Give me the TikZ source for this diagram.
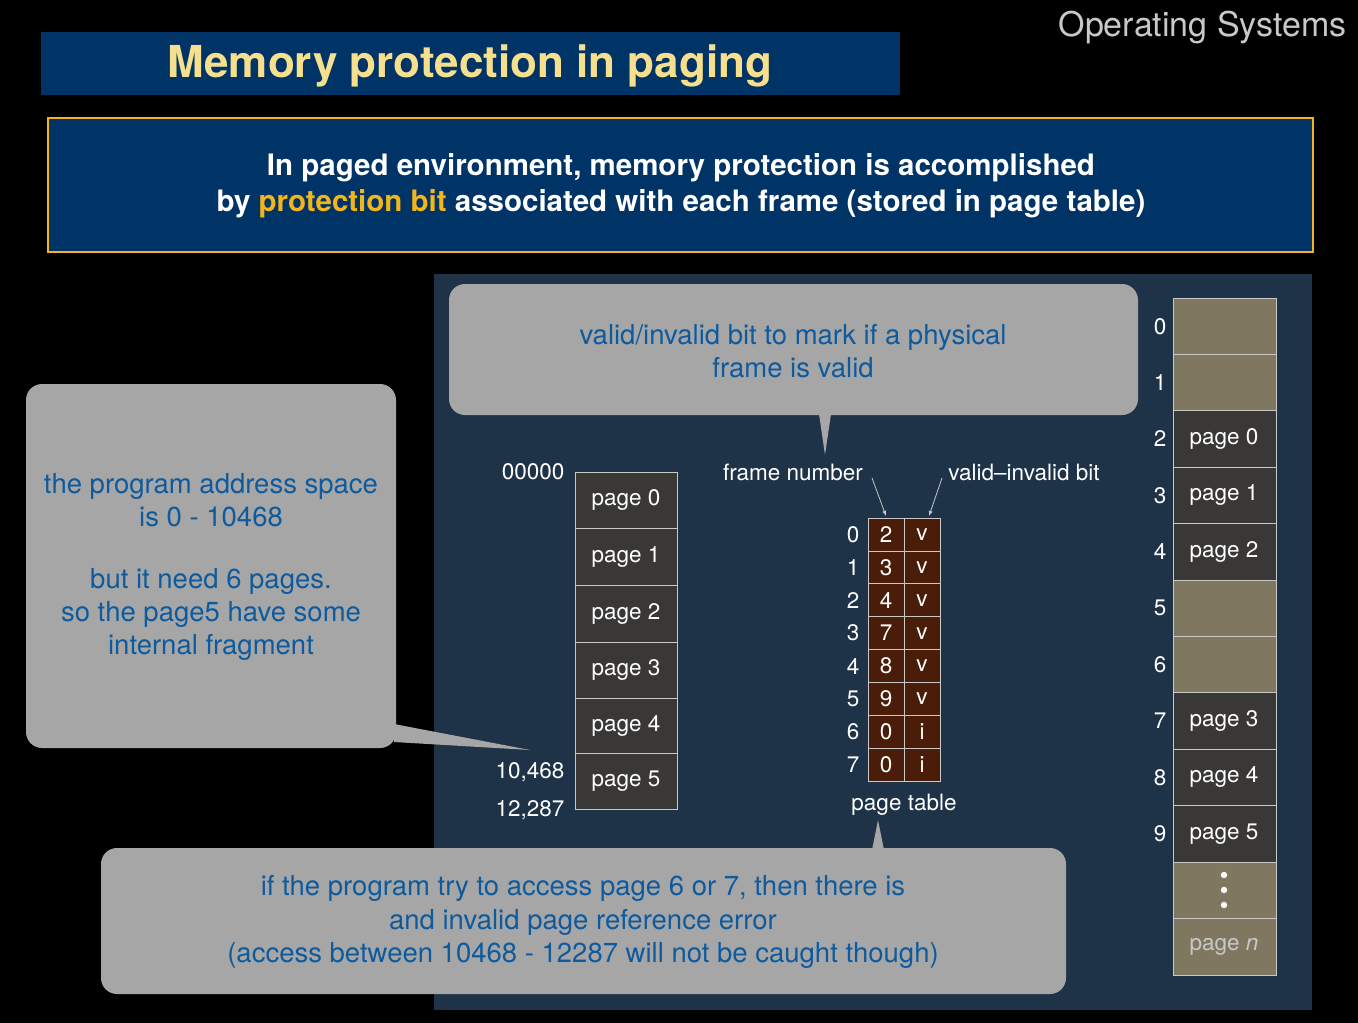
\documentclass[tikz,border=0pt]{standalone}
\usepackage{fontspec}
\setmainfont{TeX Gyre Heros}
\begin{document}
\begin{tikzpicture}[x=1pt,y=-1pt,
  callout/.style={fill=calgray,draw=none},
  ctext/.style={text=ctblue,font=\fontsize{27.5}{33.5}\selectfont,align=center},
  small/.style={text=white,font=\fontsize{22.5}{26}\selectfont},
  lpage/.style={draw=lgray,fill=pagegray,line width=0.8pt},
  ptcell/.style={draw=lgray,fill=ptbrown,line width=0.8pt},
  empty/.style={draw=lgray,fill=olive,line width=0.8pt}]
\definecolor{navy}{HTML}{003366}
\definecolor{panel}{HTML}{1E3248}
\definecolor{calgray}{HTML}{A6A6A6}
\definecolor{ctblue}{HTML}{0D5A9E}
\definecolor{titley}{HTML}{F6E08E}
\definecolor{gold}{HTML}{F2B51C}
\definecolor{lgray}{HTML}{C8C8C8}
\definecolor{pagegray}{HTML}{3A3836}
\definecolor{ptbrown}{HTML}{4A1D08}
\definecolor{olive}{HTML}{7F7760}
\fill[black] (0,0) rectangle (1358,1023);
\useasboundingbox (0,0) rectangle (1358,1023);
% title
\fill[navy] (41,32) rectangle (900,95);
\node (title) at (470,66) {\fontsize{44}{50}\selectfont\bfseries\color{titley}Memory protection in paging};
\node[anchor=east] (os) at (1350,28) {\fontsize{34}{38}\selectfont\color{lgray}Operating Systems};
% intro box
\draw[fill=navy,draw=gold,line width=2pt] (48,118) rectangle (1313,252);
\node[align=center,text=white,font=\fontsize{29.5}{36}\selectfont\bfseries] (intro) at (681,186)
 {In paged environment, memory protection is accomplished\\ by {\color{gold}protection bit} associated with each frame (stored in page table)};
% panel
\fill[panel] (434,274) rectangle (1312,1010);
% top callout
\fill[callout,rounded corners=16pt] (449,284) rectangle (1138,415);
\fill[callout] (819,414) -- (831,414) -- (825,455) -- cycle;
\node[ctext] (c1) at (793,351) {valid/invalid bit to mark if a physical\\frame is valid};
% left callout
\fill[callout,rounded corners=16pt] (26,384) rectangle (396,748);
\fill[callout] (394,724) -- (394,742) -- (530,750) -- cycle;
\node[ctext,font=\fontsize{27.5}{33}\selectfont] (c2) at (211,567) {the program address space\\is 0 - 10468\\[1.05em]but it need 6 pages.\\so the page5 have some\\internal fragment};
% logical memory
\foreach \i/\ya/\yb in {0/472/528,1/528/585,2/585/642,3/642/698,4/698/753,5/753/809}{
  \draw[lpage] (575,\ya) rectangle (677,\yb);
  \node[small] (lp\i) at (626,{(\ya+\yb)/2}) {page \i};
}
\node[small,anchor=east] (a0) at (568,472) {00000};
\node[small,anchor=east] (a1) at (568,772) {10,468};
\node[small,anchor=east] (a2) at (568,810) {12,287};
% page table
\foreach \i/\f/\v in {0/2/v,1/3/v,2/4/v,3/7/v,4/8/v,5/9/v,6/0/i,7/0/i}{
  \pgfmathsetmacro{\ya}{518+\i*32.9}
  \pgfmathsetmacro{\yb}{518+(\i+1)*32.9}
  \draw[ptcell] (868,\ya) rectangle (904,\yb);
  \draw[ptcell] (904,\ya) rectangle (940,\yb);
  \node[small] (f\i) at (886,{(\ya+\yb)/2}) {\f};
  \node[small] (v\i) at (922,{(\ya+\yb)/2}) {\v};
  \node[small] (pi\i) at (853,{(\ya+\yb)/2}) {\i};
}
\coordinate (ftop) at (886,516);
\coordinate (vtop) at (929,516);
\node[small] (fn) at (793,472) {frame number};
\node[small] (vib) at (1024,472) {valid–invalid bit};
\draw[lgray,line width=0.8pt,-latex] (872,478) -- (ftop);
\draw[lgray,line width=0.8pt,-latex] (942,478) -- (vtop);
\node[small] (pt) at (904,805) {page table};
% bottom callout
\fill[callout,rounded corners=16pt] (101,848) rectangle (1066,994);
\fill[callout] (872,850) -- (884,850) -- (878,820) -- cycle;
\node[ctext,font=\fontsize{27.5}{33.5}\selectfont] (c3) at (583,922) {if the program try to access page 6 or 7, then there is\\and invalid page reference error\\(access between 10468 - 12287 will not be caught though)};
% physical memory
\foreach \r/\s/\t in {0/empty/,1/empty/,2/lpage/page 0,3/lpage/page 1,4/lpage/page 2,5/empty/,6/empty/,7/lpage/page 3,8/lpage/page 4,9/lpage/page 5}{
  \pgfmathsetmacro{\ya}{298+\r*56.4}
  \pgfmathsetmacro{\yb}{298+(\r+1)*56.4}
  \draw[\s] (1173,\ya) rectangle (1276,\yb);
  \node[small] (pm\r) at (1224,{(\ya+\yb)/2}) {\t};
  \node[small] (pn\r) at (1160,{(\ya+\yb)/2}) {\r};
}
\draw[empty] (1173,862) rectangle (1276,918.4);
\draw[empty] (1173,918.4) rectangle (1276,975);
\foreach \y in {875,890,905} \fill[white] (1224,\y) circle (3.2);
\node[small,text=lgray] (pmn) at (1224,947) {page \textit{n}};
\end{tikzpicture}
\end{document}
